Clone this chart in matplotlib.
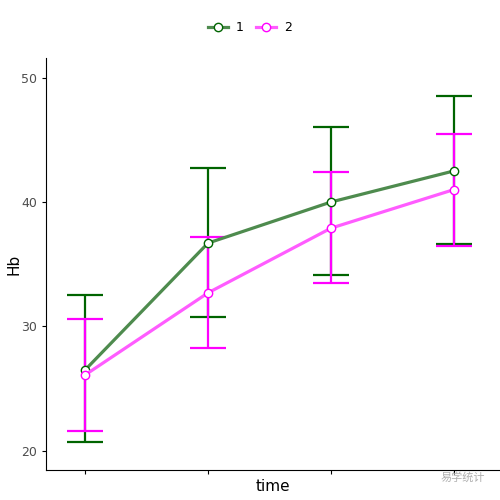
import matplotlib.pyplot as plt
import numpy as np

time = [1, 2, 3, 4]
mean1 = [26.5, 36.7, 40.0, 42.5]
upper1 = [32.5, 42.7, 46.0, 48.5]
lower1 = [20.7, 30.8, 34.1, 36.6]
mean2 = [26.1, 32.7, 37.9, 41.0]
upper2 = [30.6, 37.2, 42.4, 45.5]
lower2 = [21.6, 28.3, 33.5, 36.5]

fig = plt.figure(figsize=(5, 5), dpi=100)
ax = fig.add_axes([0.092, 0.06, 0.908, 0.824])

groups = [
    ("1", mean1, upper1, lower1, "#4E8B4E", "#006400"),
    ("2", mean2, upper2, lower2, "#FF5CFF", "#FF00FF"),
]
for label, m, up, lo, lc, ec in groups:
    m = np.array(m)
    yerr = [m - np.array(lo), np.array(up) - m]
    ax.errorbar(time, m, yerr=yerr, fmt="none", ecolor=ec, elinewidth=1.6,
                capsize=13, capthick=1.6, zorder=2)
    ax.plot(time, m, color=lc, lw=2.3, marker="o", ms=6, mfc="white",
            mec=ec, mew=1, label=label, zorder=3)

ax.set_xlim(0.683, 4.374)
ax.set_ylim(18.47, 51.57)
ax.set_xticks(time)
ax.set_xticklabels([])
ax.set_yticks([20, 30, 40, 50])
ax.tick_params(axis="y", labelsize=9, labelcolor="#4D4D4D", length=3)
ax.tick_params(axis="x", length=3)
for s in ["top", "right"]:
    ax.spines[s].set_visible(False)
ax.set_xlabel("time", fontsize=11, labelpad=0)
ax.set_ylabel("Hb", fontsize=11)
ax.yaxis.set_label_coords(-0.055, 0.5)

fig.legend(loc="upper center", bbox_to_anchor=(0.5, 0.98), ncol=2, frameon=False,
           fontsize=9, handlelength=1.6, columnspacing=1.0, handletextpad=0.6)

fig.text(0.97, 0.045, "易学统计", family=["Noto Sans CJK SC", "DejaVu Sans"],
         fontsize=8, color="#B0B0B0", ha="right", va="center")

fig.savefig("out.png")
